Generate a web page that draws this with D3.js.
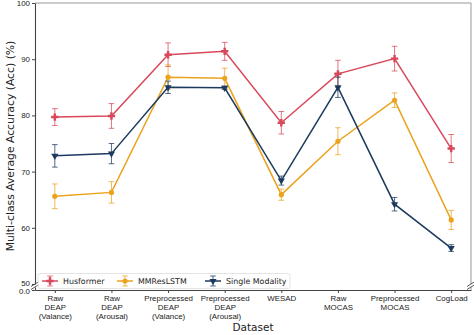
<!DOCTYPE html>
<html>
<head>
<meta charset="utf-8">
<script src="https://cdn.jsdelivr.net/npm/d3@7"></script>
<style>
  body { margin: 0; background: #fff; }
  svg { display: block; font-family: "DejaVu Sans", sans-serif; }
  .axis text { fill: #222; font-size: 7.9px; }
  .axis path, .axis line { stroke: #444; }
</style>
</head>
<body>
<div id="chart"></div>
<script>
// datasets along x, one line per model
const datasets = [
  ['Raw', 'DEAP', '(Valance)'],
  ['Raw', 'DEAP', '(Arousal)'],
  ['Preprocessed', 'DEAP', '(Valance)'],
  ['Preprocessed', 'DEAP', '(Arousal)'],
  ['WESAD'],
  ['Raw', 'MOCAS'],
  ['Preprocessed', 'MOCAS'],
  ['CogLoad']
]

const husformer = [79.7, 79.9, 90.8, 91.4, 78.7, 87.4, 90.1, 74.1]
const husformerErr = [1.5, 2.2, 2.1, 1.6, 2.0, 2.4, 2.2, 2.5]

const mmreslstm = [65.6, 66.3, 86.8, 86.6, 65.9, 75.4, 82.7, 61.4]
const mmreslstmErr = [2.2, 1.9, 2.2, 1.8, 1.0, 2.4, 1.3, 1.7]

const single = [72.8, 73.2, 85.0, 84.9, 68.4, 85.0, 64.2, 56.4]
const singleErr = [2.0, 1.8, 1.1, 0.3, 0.8, 1.8, 1.2, 0.6]

const yTicks = [50, 60, 70, 80, 90, 100]

const series = [
  {name: 'Husformer', values: husformer, err: husformerErr, color: '#d8485b', marker: 'plus'},
  {name: 'MMResLSTM', values: mmreslstm, err: mmreslstmErr, color: '#eba21d', marker: 'circle'},
  {name: 'Single Modality', values: single, err: singleErr, color: '#1c3a5e', marker: 'tri'}
]

const width = 474, height = 335
const plotLeft = 35, plotRight = 471, plotTop = 3
const upperBottom = 284, lowerTop = 287, lowerBottom = 290

const svg = d3.select('#chart').append('svg')
  .attr('width', width)
  .attr('height', height)

const x = d3.scaleLinear().domain([-0.35, 7.35]).range([plotLeft, plotRight])
const y = d3.scaleLinear().domain([50, 100]).range([upperBottom, plotTop])
const yLow = d3.scaleLinear().domain([0, 1]).range([lowerBottom, lowerTop])

// spines
svg.append('line').attr('x1', plotLeft).attr('x2', plotRight).attr('y1', plotTop).attr('y2', plotTop)
  .attr('stroke', '#999').attr('stroke-width', 1)
svg.append('line').attr('x1', plotRight).attr('x2', plotRight).attr('y1', plotTop).attr('y2', upperBottom)
  .attr('stroke', '#999').attr('stroke-width', 1)
svg.append('line').attr('x1', plotRight).attr('x2', plotRight).attr('y1', lowerTop).attr('y2', lowerBottom)
  .attr('stroke', '#999').attr('stroke-width', 1)

// y axes (upper 50-100, lower stub for 0)
const yAxis = svg.append('g').attr('class', 'axis')
  .attr('transform', 'translate(' + plotLeft + ',0)')
  .call(d3.axisLeft(y).tickValues(yTicks).tickSize(3).tickPadding(2).tickSizeOuter(0))
yAxis.select('.domain').attr('stroke', '#444').attr('stroke-width', 1.1)
yAxis.selectAll('.tick text').filter((d) => d === 50).attr('dy', '0.2em')

const yAxisLow = svg.append('g').attr('class', 'axis')
  .attr('transform', 'translate(' + plotLeft + ',0)')
  .call(d3.axisLeft(yLow).tickValues([0]).tickSize(3).tickPadding(2).tickSizeOuter(0))
yAxisLow.select('.domain').attr('stroke', '#444').attr('stroke-width', 1.1)
yAxisLow.select('text').attr('dy', '0.5em')

// x axis on the lower stub
const xAxis = svg.append('g').attr('class', 'axis')
  .attr('transform', 'translate(0,' + lowerBottom + ')')
  .call(d3.axisBottom(x).tickValues(d3.range(datasets.length)).tickSize(3).tickPadding(2)
    .tickSizeOuter(0).tickFormat(''))
xAxis.select('.domain').attr('stroke', '#777').attr('stroke-width', 1.1)

xAxis.selectAll('.tick').append('text')
  .attr('y', 11)
  .attr('text-anchor', 'middle')
  .selectAll('tspan')
  .data((d) => datasets[d])
  .join('tspan')
  .attr('x', 0)
  .attr('dy', (d, i) => i === 0 ? 0 : 8.8)
  .text((d) => d)

// break marks at both ends
const breaks = [[plotLeft, upperBottom], [plotLeft, lowerTop], [plotRight, upperBottom], [plotRight, lowerTop]]
svg.selectAll('.break').data(breaks).join('line')
  .attr('class', 'break')
  .attr('x1', (d) => d[0] - 4).attr('y1', (d) => d[1] + 2.5)
  .attr('x2', (d) => d[0] + 4).attr('y2', (d) => d[1] - 2.5)
  .attr('stroke', '#444').attr('stroke-width', 0.9)

// axis titles
svg.append('text')
  .attr('transform', 'translate(13.5,' + 146 + ') rotate(-90)')
  .attr('text-anchor', 'middle')
  .attr('font-size', 10.8)
  .attr('fill', '#222')
  .text('Multi-class Average Accuracy (Acc) (%)')

svg.append('text')
  .attr('x', (plotLeft + plotRight) / 2)
  .attr('y', 331)
  .attr('text-anchor', 'middle')
  .attr('font-size', 10.5)
  .attr('fill', '#222')
  .text('Dataset')

const drawMarker = (g, s, cx, cy) => {
  if (s.marker === 'circle') {
    g.append('circle').attr('cx', cx).attr('cy', cy).attr('r', 2.6).attr('fill', s.color)
  } else if (s.marker === 'tri') {
    g.append('path')
      .attr('d', d3.symbol(d3.symbolTriangle, 22)())
      .attr('transform', 'translate(' + cx + ',' + cy + ') rotate(180)')
      .attr('fill', s.color)
  } else {
    g.append('path')
      .attr('d', d3.symbol(d3.symbolCross, 30)())
      .attr('transform', 'translate(' + cx + ',' + cy + ')')
      .attr('fill', s.color)
  }
}

const line = d3.line().x((d, i) => x(i)).y((d) => y(d))
const plot = svg.append('g')

series.forEach((s) => {
  const g = plot.append('g')
  // error bars
  s.values.forEach((v, i) => {
    const lo = y(v - s.err[i]), hi = y(v + s.err[i])
    const eb = g.append('g').attr('stroke', s.color).attr('stroke-opacity', 0.75).attr('stroke-width', 1)
    eb.append('line').attr('x1', x(i)).attr('x2', x(i)).attr('y1', lo).attr('y2', hi)
    eb.append('line').attr('x1', x(i) - 2.8).attr('x2', x(i) + 2.8).attr('y1', lo).attr('y2', lo)
    eb.append('line').attr('x1', x(i) - 2.8).attr('x2', x(i) + 2.8).attr('y1', hi).attr('y2', hi)
  })
  g.append('path')
    .datum(s.values)
    .attr('d', line)
    .attr('fill', 'none')
    .attr('stroke', s.color)
    .attr('stroke-width', 1.5)
  s.values.forEach((v, i) => drawMarker(g, s, x(i), y(v)))
})

// legend
const legend = svg.append('g')
legend.append('rect')
  .attr('x', 38).attr('y', 273.5).attr('width', 252).attr('height', 15)
  .attr('rx', 2).attr('fill', '#fff').attr('fill-opacity', 0.85)
  .attr('stroke', '#ddd').attr('stroke-width', 0.8)

const legendX = [50, 125, 213]
series.forEach((s, k) => {
  const cx = legendX[k], cy = 281
  const g = legend.append('g')
  g.append('line').attr('x1', cx - 8).attr('x2', cx + 8).attr('y1', cy).attr('y2', cy)
    .attr('stroke', s.color).attr('stroke-width', 1.5)
  const eb = g.append('g').attr('stroke', s.color).attr('stroke-opacity', 0.75).attr('stroke-width', 1)
  eb.append('line').attr('x1', cx).attr('x2', cx).attr('y1', cy - 5).attr('y2', cy + 5)
  eb.append('line').attr('x1', cx - 2.8).attr('x2', cx + 2.8).attr('y1', cy - 5).attr('y2', cy - 5)
  eb.append('line').attr('x1', cx - 2.8).attr('x2', cx + 2.8).attr('y1', cy + 5).attr('y2', cy + 5)
  drawMarker(g, s, cx, cy)
  g.append('text')
    .attr('x', cx + 13).attr('y', cy + 2.8)
    .attr('font-size', 7.9).attr('fill', '#222')
    .text(s.name)
})
</script>
</body>
</html>
